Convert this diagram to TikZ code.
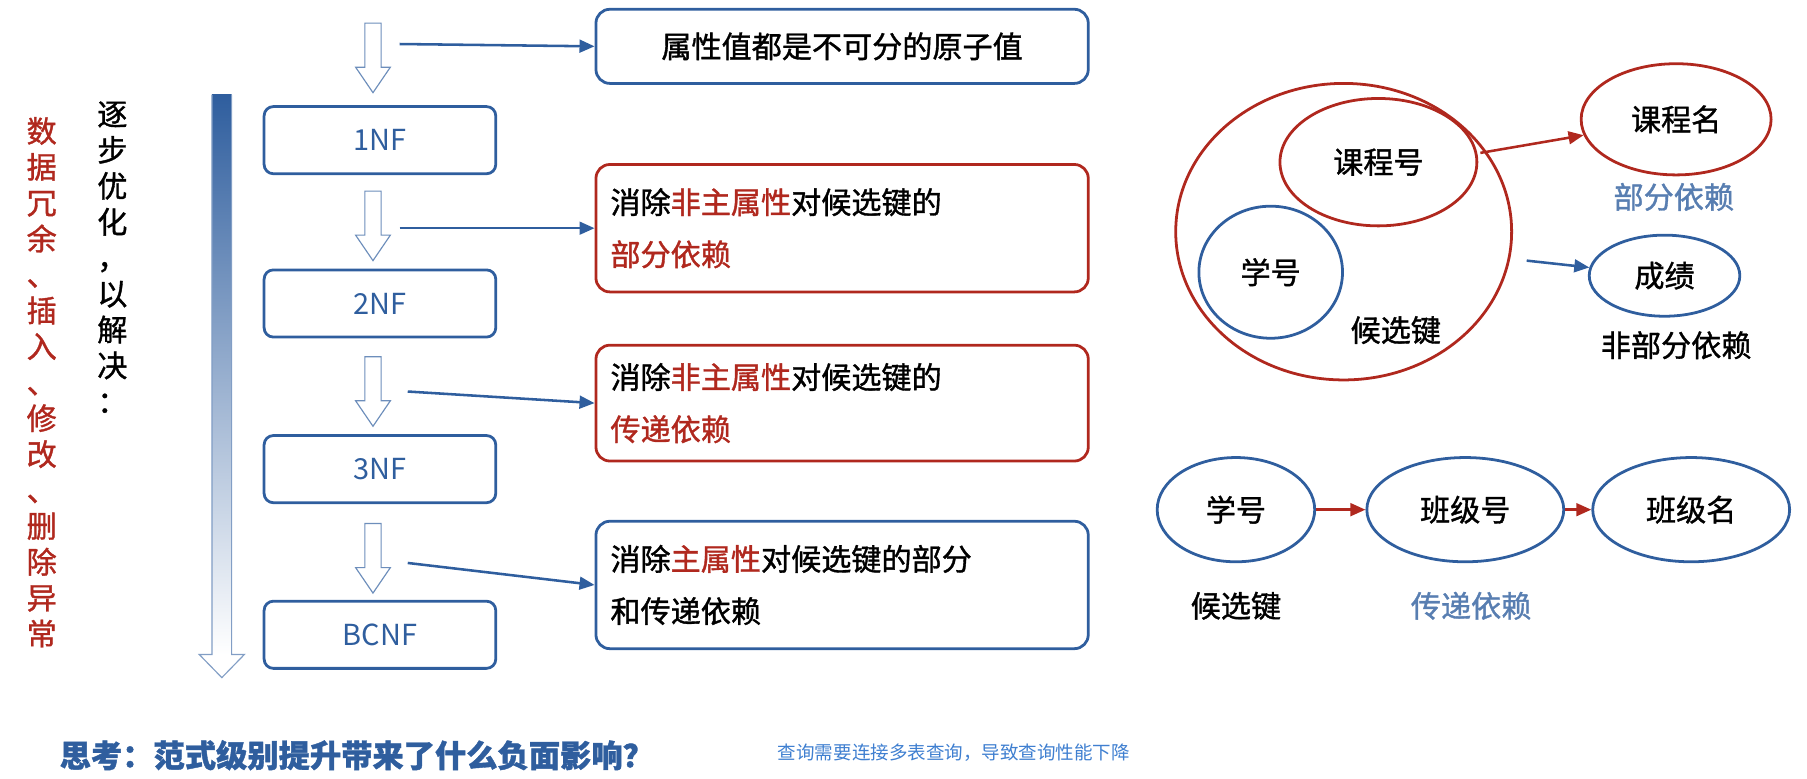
\documentclass[tikz,border=0pt]{standalone}
\usepackage{fontspec}
\setmainfont[FakeBold=1.2]{Noto Sans CJK SC}
\newfontfamily\thin{Noto Sans CJK SC}
\usetikzlibrary{arrows.meta,shapes.geometric}
\definecolor{bl}{HTML}{2F5E9E}
\definecolor{rd}{HTML}{B0281E}
\definecolor{lb}{HTML}{3F7FD0}
\tikzset{
  nf/.style={draw=bl,line width=2.4pt,rounded corners=8pt,minimum width=200pt,minimum height=58pt,text=bl,font=\thin\fontsize{25}{28}\selectfont},
  tbox/.style={draw=#1,line width=2.4pt,rounded corners=12pt,minimum width=425pt,inner sep=0pt},
  hol/.style={draw=bl!70,fill=white,line width=1pt},
  con/.style={draw=bl,line width=2.2pt,-{Triangle[length=13pt,width=11pt]}},
  rcon/.style={draw=rd,line width=2.2pt,-{Triangle[length=13pt,width=11pt]}},
  txt/.style={font=\fontsize{26}{31}\selectfont},
  el/.style={draw=#1,line width=2.4pt,ellipse},
}
\newcommand{\holarrow}[2]{% x, ytop
  \draw[hol] (#1-7,#2) -- (#1+7,#2) -- (#1+7,#2+38) -- (#1+15,#2+38) -- (#1,#2+60) -- (#1-15,#2+38) -- (#1-7,#2+38) -- cycle;}
\begin{document}
\begin{tikzpicture}[x=1pt,y=-1pt]
\useasboundingbox (0,0) rectangle (1560,672);
\shade[top color=bl,bottom color=white,draw=none] (183,82) rectangle (200,565);
\draw[bl!60,line width=1pt] (183,82) -- (183,565) -- (172,565) -- (191.5,585) -- (211,565) -- (200,565) -- (200,82);
\node[txt,text=rd,align=center,inner sep=0pt] (red) at (36,330) {数\\据\\冗\\余\\、\\插\\入\\、\\修\\改\\、\\删\\除\\异\\常};
\node[txt,align=center,inner sep=0pt] (opt) at (97,222) {逐\\步\\优\\化\\，\\以\\解\\决\\：};
\node[nf] (n1) at (328,121) {1NF};
\node[nf] (n2) at (328,262) {2NF};
\node[nf] (n3) at (328,405) {3NF};
\node[nf] (n4) at (328,548) {BCNF};
\holarrow{322}{20}
\holarrow{322}{165}
\holarrow{322}{308}
\holarrow{322}{452}
\node[tbox=bl,minimum height=64pt,txt] (t1) at (727,40) {属性值都是不可分的原子值};
\node[tbox=rd,minimum height=110pt,txt,align=left,text width=400pt] (t2) at (727,197) {消除\textcolor{rd}{非主属性}对候选键的\\[14pt]\textcolor{rd}{部分依赖}};
\node[tbox=rd,minimum height=100pt,txt,align=left,text width=400pt] (t3) at (727,348) {消除\textcolor{rd}{非主属性}对候选键的\\[14pt]\textcolor{rd}{传递依赖}};
\node[tbox=bl,minimum height=110pt,txt,align=left,text width=400pt] (t4) at (727,505) {消除\textcolor{rd}{主属性}对候选键的部分\\[14pt]和传递依赖};
\coordinate (s1) at (345,38); \coordinate (s2) at (345,197);
\coordinate (s3) at (352,338); \coordinate (s4) at (352,486);
\draw[con] (s1) -- (t1.west);
\draw[con] (s2) -- (t2.west);
\draw[con] (s3) -- (t3.west);
\draw[con] (s4) -- (t4.west);
\node[el=rd,minimum width=290pt,minimum height=256pt] (big) at (1160,200) {};
\node[el=rd,minimum width=170pt,minimum height=110pt,txt] (kch) at (1190,140) {课程号};
\node[el=bl,minimum width=124pt,minimum height=114pt,txt] (xh) at (1097,235) {学号};
\node[txt] (hx) at (1205,285) {候选键};
\node[el=rd,minimum width=164pt,minimum height=96pt,txt] (kcm) at (1447,103) {课程名};
\node[txt,text=bl!80] (bf) at (1445,170) {部分依赖};
\node[el=bl,minimum width=130pt,minimum height=70pt,txt] (cj) at (1437,238) {成绩};
\node[txt] (fbf) at (1447,298) {非部分依赖};
\coordinate (a1) at (1278,132);
\coordinate (a2) at (1318,225);
\draw[rcon] (a1) -- (kcm);
\draw[con] (a2) -- (cj);
\node[el=bl,minimum width=136pt,minimum height=90pt,txt] (b1) at (1067,440) {学号};
\node[el=bl,minimum width=170pt,minimum height=90pt,txt] (b2) at (1265,440) {班级号};
\node[el=bl,minimum width=170pt,minimum height=90pt,txt] (b3) at (1460,440) {班级名};
\draw[rcon] (b1) -- (b2);
\draw[rcon] (b2) -- (b3);
\node[txt] (hx2) at (1067,523) {候选键};
\node[txt,text=bl!80] (cd) at (1270,523) {传递依赖};
\node[anchor=west,text=bl,font=\fontsize{27}{30}\selectfont\bfseries] (q) at (48,652) {思考：范式级别提升带来了什么负面影响？};
\node[anchor=west,text=lb,font=\thin\fontsize{16}{20}\selectfont] (ans) at (668,650) {查询需要连接多表查询，导致查询性能下降};
\end{tikzpicture}
\end{document}
